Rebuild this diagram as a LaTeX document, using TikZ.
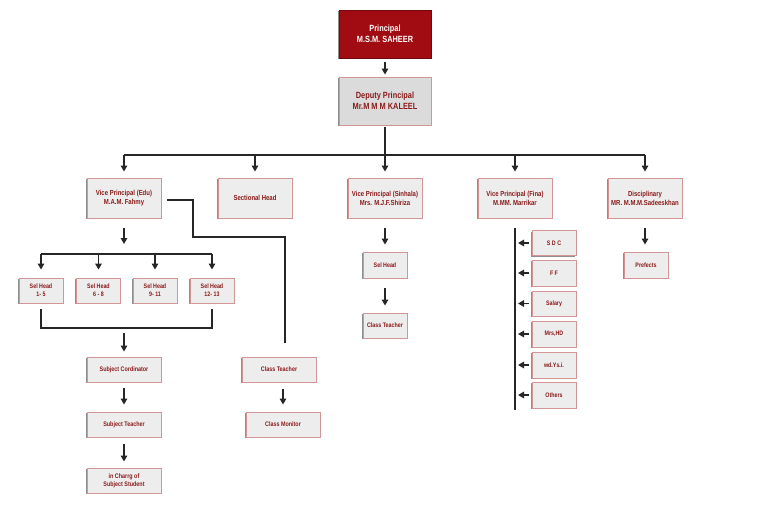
\documentclass[tikz,border=0pt]{standalone}
\usepackage{fontspec}
\setmainfont[FakeStretch=0.82]{Liberation Sans}
\usetikzlibrary{arrows.meta,shadows}
\definecolor{txtred}{HTML}{8B1A1A}
\definecolor{boxfill}{HTML}{EDEDED}
\definecolor{boxline}{HTML}{D39595}
\definecolor{topred}{HTML}{A00C12}
\tikzset{
  box/.style={draw=boxline, line width=0.9pt, fill=boxfill, text=txtred,
    font=\fontsize{7.3}{9}\selectfont\bfseries, align=center, inner sep=0pt,
    drop shadow={shadow xshift=-1.1pt, shadow yshift=-1.1pt, fill=black!55, opacity=0.8}},
  bigbox/.style={box, minimum width=74pt, minimum height=40pt},
  smallbox/.style={box, minimum width=44pt, minimum height=25pt, font=\fontsize{6.5}{8.2}\selectfont\bfseries},
  widebox/.style={box, minimum width=74pt, minimum height=25pt, font=\fontsize{6.6}{8.4}\selectfont\bfseries},
  conn/.style={line width=1.5pt, draw=black!85},
  arr/.style={conn, -{Triangle[length=6pt,width=6.5pt]}},
}
\begin{document}
\begin{tikzpicture}[x=1pt,y=-1pt]
\useasboundingbox (0,0) rectangle (768,512);
% top
\node[box, fill=topred, draw=topred!70!black, text=white, minimum width=92pt, minimum height=48pt,
  font=\fontsize{9}{11}\selectfont\bfseries] (principal) at (385,34) {Principal\\M.S.M. SAHEER};
\node[box, fill=black!14, draw=boxline, minimum width=92pt, minimum height=48pt,
  font=\fontsize{9}{11}\selectfont\bfseries] (deputy) at (385,101) {Deputy Principal\\Mr.M M M KALEEL};
% second row
\node[bigbox] (vpedu) at (124,198) {Vice Principal (Edu)\\M.A.M. Fahmy};
\node[bigbox] (sect) at (255,198) {Sectional Head};
\node[bigbox] (vps) at (385,198) {Vice Principal (Sinhala)\\Mrs. M.J.F.Shiriza};
\node[bigbox] (vpf) at (515,198) {Vice Principal (Fina)\\M.MM. Marrikar};
\node[bigbox] (disc) at (645,198) {Disciplinary\\MR. M.M.M.Sadeeskhan};
% sel heads
\node[smallbox] (sh1) at (41,290.5) {Sel Head\\1- 5};
\node[smallbox] (sh2) at (98.5,290.5) {Sel Head\\6 - 8};
\node[smallbox] (sh3) at (155,290.5) {Sel Head\\9- 11};
\node[smallbox] (sh4) at (212,290.5) {Sel Head\\12- 13};
% left column
\node[widebox] (subc) at (124,369.5) {Subject Cordinator};
\node[widebox] (subt) at (124,424.5) {Subject Teacher};
\node[widebox] (inch) at (124,480.5) {in Charrg of\\Subject Student};
\node[widebox] (ct) at (279,369.5) {Class Teacher};
\node[widebox] (cm) at (283,424.5) {Class Monitor};
% sinhala
\node[smallbox, minimum height=26pt] (vsh) at (385,265) {Sel Head};
\node[smallbox] (vct) at (385,325.5) {Class Teacher};
% fina
\node[smallbox] (sdc) at (554,243) {S D C};
\node[smallbox, minimum height=26pt] (ff) at (554,273) {F F};
\node[smallbox] (sal) at (554,303.5) {Salary};
\node[smallbox, minimum height=26pt] (mrs) at (554,334) {Mrs,HD};
\node[smallbox, minimum height=26pt] (wd) at (554,365) {wd.Ys.i.};
\node[smallbox, minimum height=26pt] (oth) at (554,395) {Others};
% disciplinary
\node[smallbox, minimum height=26pt] (pref) at (646,265) {Prefects};
% coordinates
\coordinate (bar) at (385,155);
\coordinate (selbar) at (124,254);
\coordinate (brk) at (124,328);
\coordinate (e1) at (193,237);
\coordinate (e2) at (285,343);
\coordinate (f1) at (515,228);
\coordinate (f2) at (515,410);
% connectors
\draw[arr, shorten <=4pt, shorten >=2pt] (principal) -- (deputy);
\draw[conn, shorten <=2pt] (deputy.south) -- (bar);
\draw[conn] (vpedu.north |- bar) -- (disc.north |- bar);
\foreach \n in {vpedu,sect,vps,vpf,disc}
  \draw[arr, shorten >=6pt] (\n.north |- bar) -- (\n.north);
\draw[arr, shorten <=10pt, shorten >=10pt] (vpedu.south) -- (selbar);
\draw[conn] (sh1.north |- selbar) -- (sh4.north |- selbar);
\foreach \n in {sh1,sh2,sh3,sh4}
  \draw[arr, shorten >=8pt] (\n.north |- selbar) -- (\n.north);
\draw[conn] ([yshift=-6pt]sh1.south) |- (brk) -| ([yshift=-6pt]sh4.south);
\draw[arr, shorten <=5pt, shorten >=5pt] (brk) -- (subc.north);
\draw[arr, shorten <=6pt, shorten >=7pt] (subc) -- (subt);
\draw[arr, shorten <=7pt, shorten >=6pt] (subt) -- (inch);
\draw[conn] ([xshift=6pt,yshift=-2pt]vpedu.east) -| (e1) -| (e2);
\draw[arr, shorten <=7pt, shorten >=7pt] (ct.south -| cm.north) -- (cm.north);
\draw[arr, shorten <=10pt, shorten >=7pt] (vps.south) -- (vsh.north);
\draw[arr, shorten <=10pt, shorten >=7pt] (vsh.south) -- (vct.north);
\draw[conn] (f1) -- (f2);
\foreach \n in {sdc,ff,sal,mrs,wd,oth}
  \draw[arr, shorten <=3pt, shorten >=3pt] (\n.west) -- (\n.west -| f1);
\draw[arr, shorten <=10pt, shorten >=7pt] (disc.south) -- (disc.south |- pref.north);
\end{tikzpicture}
\end{document}
